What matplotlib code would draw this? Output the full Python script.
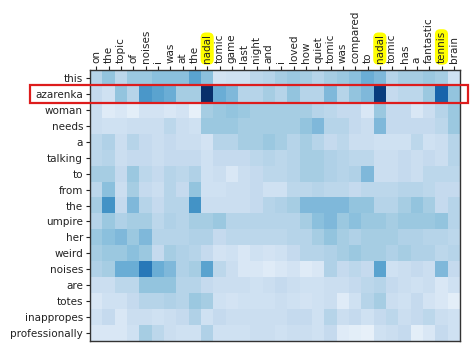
import numpy as np
import matplotlib
matplotlib.use("Agg")
import matplotlib.pyplot as plt
from matplotlib.patches import Rectangle

x_tokens = ["on", "the", "topic", "of", "noises", "i", "was", "at", "the", "nadal",
            "tomic", "game", "last", "night", "and", "i", "loved", "how", "quiet", "tomic",
            "was", "compared", "to", "nadal", "tomic", "has", "a", "fantastic", "tennis", "brain"]
y_tokens = ["this", "azarenka", "woman", "needs", "a", "talking", "to", "from", "the",
            "umpire", "her", "weird", "noises", "are", "totes", "inappropes", "professionally"]
highlight_cols = [9, 23, 28]
highlight_row = 1

r_this = [0.30, 0.40, 0.28, 0.38, 0.38, 0.42, 0.42, 0.42, 0.55, 0.42, 0.18, 0.20, 0.20, 0.28, 0.30,
          0.35, 0.38, 0.35, 0.30, 0.35, 0.38, 0.42, 0.50, 0.45, 0.30, 0.35, 0.35, 0.38, 0.35, 0.20]
r_azarenka = [0.25, 0.20, 0.40, 0.30, 0.60, 0.55, 0.50, 0.35, 0.35, 1.00, 0.50, 0.45, 0.30, 0.30, 0.35,
              0.30, 0.40, 0.30, 0.30, 0.45, 0.30, 0.40, 0.45, 0.95, 0.25, 0.28, 0.28, 0.38, 0.80, 0.40]
r_woman = [0.22, 0.12, 0.15, 0.10, 0.18, 0.18, 0.15, 0.18, 0.08, 0.35, 0.38, 0.40, 0.38, 0.35, 0.35,
           0.35, 0.35, 0.35, 0.30, 0.28, 0.25, 0.25, 0.15, 0.38, 0.25, 0.25, 0.15, 0.22, 0.30, 0.38]
r_needs = [0.22, 0.20, 0.20, 0.22, 0.22, 0.22, 0.28, 0.22, 0.20, 0.38, 0.38, 0.38, 0.35, 0.35, 0.35,
           0.35, 0.35, 0.40, 0.45, 0.30, 0.30, 0.25, 0.22, 0.45, 0.25, 0.25, 0.25, 0.25, 0.28, 0.38]
r_a = [0.28, 0.32, 0.22, 0.30, 0.25, 0.22, 0.25, 0.22, 0.22, 0.18, 0.30, 0.30, 0.35, 0.35, 0.38,
       0.35, 0.30, 0.35, 0.30, 0.25, 0.28, 0.22, 0.22, 0.20, 0.20, 0.20, 0.28, 0.20, 0.22, 0.30]
r_talking = [0.28, 0.30, 0.22, 0.25, 0.25, 0.22, 0.25, 0.25, 0.25, 0.20, 0.25, 0.25, 0.25, 0.28, 0.30,
             0.28, 0.30, 0.35, 0.35, 0.32, 0.30, 0.28, 0.28, 0.22, 0.22, 0.25, 0.22, 0.25, 0.22, 0.30]
r_to = [0.35, 0.35, 0.25, 0.38, 0.28, 0.25, 0.30, 0.28, 0.32, 0.20, 0.22, 0.15, 0.22, 0.25, 0.28,
        0.28, 0.30, 0.35, 0.35, 0.32, 0.30, 0.32, 0.45, 0.22, 0.22, 0.25, 0.22, 0.28, 0.28, 0.28]
r_from = [0.28, 0.42, 0.22, 0.35, 0.25, 0.22, 0.30, 0.25, 0.40, 0.20, 0.20, 0.22, 0.22, 0.25, 0.20,
          0.20, 0.28, 0.28, 0.30, 0.28, 0.28, 0.25, 0.28, 0.28, 0.28, 0.30, 0.30, 0.28, 0.25, 0.25]
r_the = [0.35, 0.62, 0.25, 0.45, 0.30, 0.25, 0.30, 0.30, 0.62, 0.22, 0.22, 0.22, 0.22, 0.25, 0.30,
         0.32, 0.35, 0.45, 0.45, 0.45, 0.45, 0.40, 0.40, 0.30, 0.30, 0.35, 0.40, 0.35, 0.25, 0.30]
r_umpire = [0.30, 0.38, 0.32, 0.35, 0.35, 0.28, 0.32, 0.30, 0.35, 0.35, 0.38, 0.30, 0.30, 0.30, 0.30,
            0.30, 0.30, 0.35, 0.42, 0.45, 0.38, 0.42, 0.38, 0.38, 0.35, 0.38, 0.38, 0.38, 0.40, 0.30]
r_her = [0.38, 0.42, 0.45, 0.38, 0.45, 0.30, 0.30, 0.30, 0.32, 0.32, 0.25, 0.28, 0.28, 0.28, 0.28,
         0.28, 0.30, 0.30, 0.35, 0.40, 0.35, 0.32, 0.35, 0.35, 0.35, 0.32, 0.32, 0.30, 0.30, 0.28]
r_weird = [0.35, 0.38, 0.38, 0.42, 0.38, 0.25, 0.35, 0.32, 0.30, 0.25, 0.18, 0.20, 0.15, 0.20, 0.18,
           0.20, 0.25, 0.30, 0.30, 0.32, 0.35, 0.38, 0.35, 0.35, 0.32, 0.35, 0.32, 0.32, 0.28, 0.30]
r_noises = [0.32, 0.35, 0.50, 0.50, 0.72, 0.50, 0.45, 0.32, 0.35, 0.55, 0.28, 0.22, 0.15, 0.15, 0.12,
            0.15, 0.18, 0.12, 0.15, 0.32, 0.25, 0.28, 0.25, 0.55, 0.20, 0.22, 0.25, 0.22, 0.45, 0.25]
r_are = [0.22, 0.22, 0.28, 0.28, 0.40, 0.40, 0.40, 0.30, 0.30, 0.25, 0.22, 0.22, 0.22, 0.20, 0.22,
         0.25, 0.22, 0.20, 0.20, 0.22, 0.22, 0.25, 0.28, 0.30, 0.25, 0.22, 0.20, 0.22, 0.15, 0.20]
r_totes = [0.15, 0.20, 0.20, 0.25, 0.30, 0.30, 0.32, 0.30, 0.38, 0.35, 0.20, 0.18, 0.20, 0.20, 0.20,
           0.22, 0.20, 0.18, 0.20, 0.22, 0.12, 0.20, 0.30, 0.35, 0.22, 0.20, 0.25, 0.18, 0.15, 0.10]
r_inappropes = [0.20, 0.25, 0.15, 0.22, 0.22, 0.20, 0.22, 0.25, 0.32, 0.20, 0.25, 0.22, 0.22, 0.22, 0.22,
                0.22, 0.25, 0.25, 0.20, 0.30, 0.22, 0.25, 0.20, 0.25, 0.28, 0.22, 0.25, 0.28, 0.22, 0.20]
r_professionally = [0.15, 0.15, 0.15, 0.20, 0.35, 0.28, 0.22, 0.20, 0.20, 0.32, 0.20, 0.20, 0.20, 0.22, 0.22,
                    0.20, 0.22, 0.22, 0.20, 0.25, 0.12, 0.10, 0.08, 0.20, 0.22, 0.25, 0.10, 0.15, 0.25, 0.20]

weights = np.array([r_this, r_azarenka, r_woman, r_needs, r_a, r_talking, r_to, r_from, r_the,
                    r_umpire, r_her, r_weird, r_noises, r_are, r_totes, r_inappropes, r_professionally])

fig = plt.figure(figsize=(4.74, 3.55), dpi=100)
ax = fig.add_axes([90 / 474, 14 / 355, 370 / 474, 271 / 355])
ax.imshow(weights, cmap="Blues", vmin=0, vmax=1, aspect="auto", interpolation="nearest")

ax.set_xticks(np.arange(len(x_tokens)))
ax.set_xticklabels(x_tokens, rotation=90, fontsize=7.5)
ax.set_yticks(np.arange(len(y_tokens)))
ax.set_yticklabels(y_tokens, fontsize=7.5)
ax.xaxis.tick_top()
ax.tick_params(axis="both", length=3, width=0.8, pad=2, colors="#222222")
for s in ax.spines.values():
    s.set_color("#333333")
    s.set_linewidth(1.0)

for j, lab in enumerate(ax.get_xticklabels()):
    if j in highlight_cols:
        lab.set_bbox(dict(boxstyle="round,pad=0.15,rounding_size=0.5", fc="#ffff00", ec="none"))

# red box around highlighted row (extends over label)
trans = matplotlib.transforms.blended_transform_factory(fig.transFigure, ax.transData)
rect = Rectangle((29.5 / 474, highlight_row - 0.54), (468 - 29.5) / 474, 1.13, transform=trans,
                 fill=False, ec="#dd1c1c", lw=1.6, clip_on=False)
fig.add_artist(rect)

fig.savefig("out.png", dpi=100)
